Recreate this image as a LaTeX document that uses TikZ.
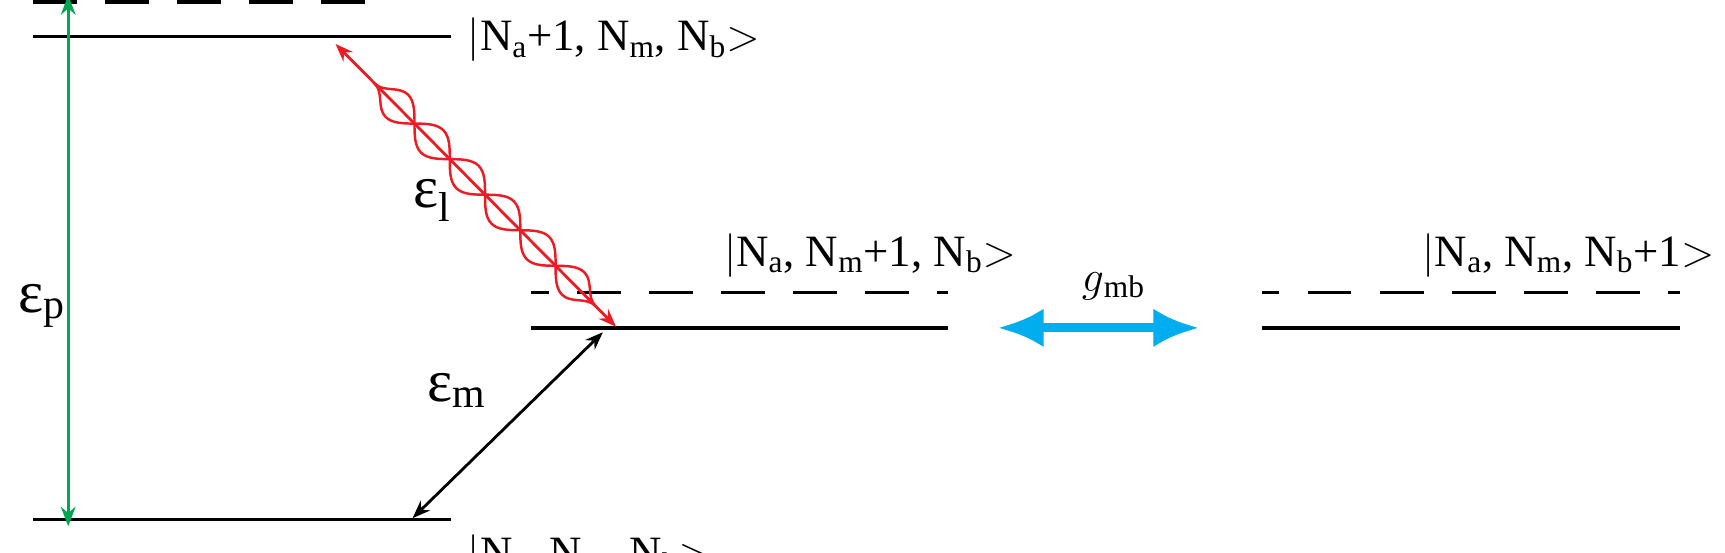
\documentclass[tikz,border=0pt]{standalone}
\usepackage{fontspec}
\setmainfont{Liberation Serif}
\usetikzlibrary{arrows.meta,decorations.pathmorphing,calc}
\definecolor{lgreen}{RGB}{0,166,81}
\definecolor{lred}{RGB}{237,28,36}
\definecolor{lblue}{RGB}{0,174,239}
\tikzset{
  level/.style={line width=2pt},
  vlevel/.style={line width=2pt, dash pattern=on 25pt off 16pt},
  hlevel/.style={line width=2pt, dash pattern=on 10pt off 16pt on 25pt off 16pt on 25pt off 16pt on 25pt off 16pt on 25pt off 16pt on 25pt off 16pt on 10pt},
  lbl/.style={inner sep=0pt, anchor=west, font=\fontsize{25.5}{30}\selectfont},
  sym/.style={inner sep=0pt, font=\fontsize{34}{40}\selectfont},
  coil/.style={lred, line width=1.4pt, decorate,
    decoration={snake, amplitude=9pt, segment length=57pt}},
}
\begin{document}
\begin{tikzpicture}[>=Stealth, x=0.022cm, y=-0.022cm]
    \useasboundingbox (0,0) rectangle (1568,502);
    % levels
    \coordinate (a0) at (30,2);   \coordinate (a1) at (345,2);
    \coordinate (b0) at (30,33);  \coordinate (b1) at (410,33);
    \coordinate (c0) at (483,266); \coordinate (c1) at (862,266);
    \coordinate (d0) at (483,298); \coordinate (d1) at (862,298);
    \coordinate (e0) at (1147,266); \coordinate (e1) at (1527,266);
    \coordinate (f0) at (1147,298); \coordinate (f1) at (1527,298);
    \coordinate (g0) at (30,472); \coordinate (g1) at (410,472);
    \draw [vlevel] (a0) -- (a1);
    \draw [level] (b0) -- (b1);
    \draw [hlevel] (c0) -- (c1);
    \draw [level] (d0) -- (d1);
    \draw [hlevel] (e0) -- (e1);
    \draw [level] (f0) -- (f1);
    \draw [level] (g0) -- (g1);
    % states
    \node [lbl] (s1) at (425,36) {$|$N\textsubscript{a}+1, N\textsubscript{m}, N\textsubscript{b}$>$};
    \node [lbl] (s2) at (658,232) {$|$N\textsubscript{a}, N\textsubscript{m}+1, N\textsubscript{b}$>$};
    \node [lbl] (s3) at (1293,232) {$|$N\textsubscript{a}, N\textsubscript{m}, N\textsubscript{b}+1$>$};
    \node [lbl] (s4) at (425,506) {$|$N\textsubscript{a}, N\textsubscript{m}, N\textsubscript{b}$>$};
    % transitions
    \node (p0) at (62,472) {};
    \node (p1) at (62,2) {};
    \draw [<->, lgreen, line width=1.8pt, shorten <=-4pt, shorten >=-4pt] (p0.center) -- (p1.center);
    \node (l0) at (305,40) {};
    \node (l1) at (560,297) {};
    \draw [<->, lred, line width=1.6pt] (l0.center) -- (l1.center);
    \draw [coil] ($(l0)!0.14!(l1)$) -- ($(l0)!0.93!(l1)$);
    \draw [coil, decoration={mirror}] ($(l0)!0.14!(l1)$) -- ($(l0)!0.93!(l1)$);
    \node (m0) at (375,471) {};
    \node (m1) at (548,302) {};
    \draw [<->, line width=1.6pt] (m0.center) -- (m1.center);
    \node (q0) at (907,298) {};
    \node (q1) at (1090,298) {};
    \draw [{Latex[length=26pt,width=22pt]}-{Latex[length=26pt,width=22pt]}, lblue, line width=5pt] (q0.center) -- (q1.center);
    % labels
    \node [sym] (ep) at (38,278) {ε\textsubscript{p}};
    \node [sym] (el) at (393,182) {ε\textsubscript{l}};
    \node [sym] (em) at (415,355) {ε\textsubscript{m}};
    \node [lbl, anchor=center] (gmb) at (1012,260) {$g$\textsubscript{mb}};
\end{tikzpicture}
\end{document}
